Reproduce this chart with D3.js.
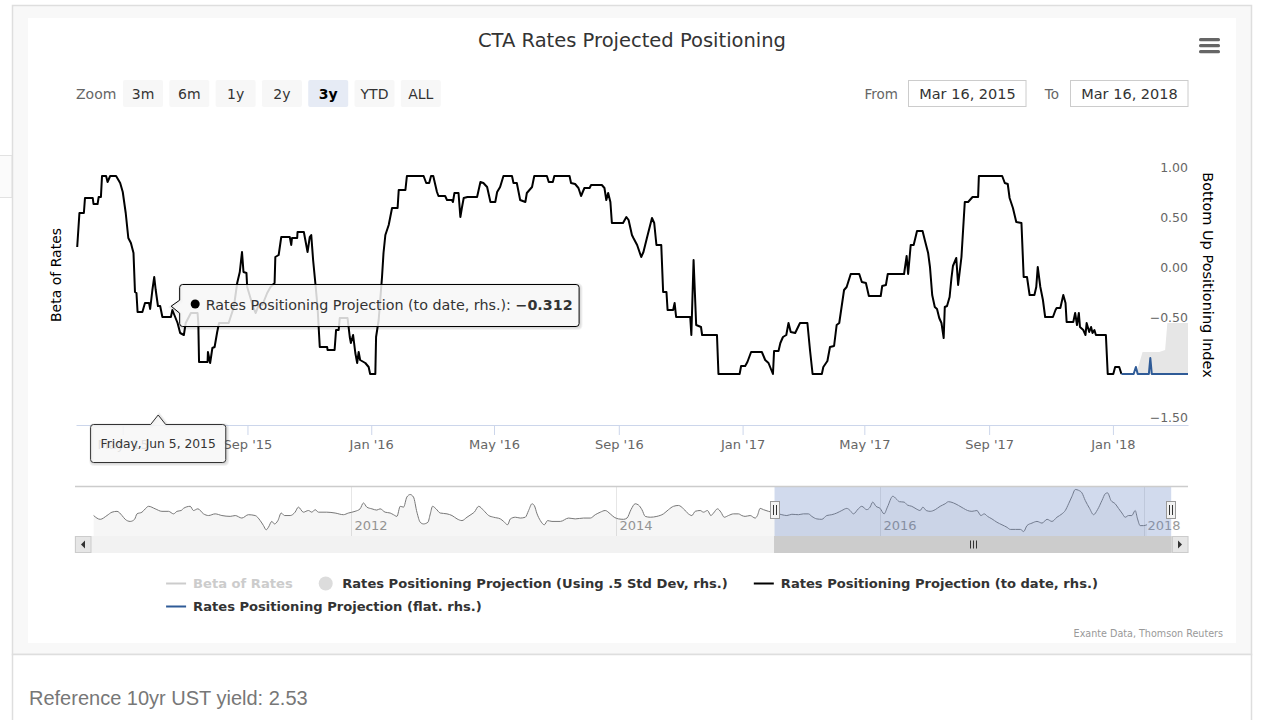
<!DOCTYPE html>
<html><head><meta charset="utf-8">
<script src="https://cdn.jsdelivr.net/npm/d3@7"></script>
<style>
html,body{margin:0;padding:0;background:#fff;}
svg{display:block;font-family:"DejaVu Sans",sans-serif;}
</style></head><body>
<svg id="chart" width="1265" height="720"></svg>
<script>
// ---------------- data ----------------
const titleText = "CTA Rates Projected Positioning";
const seriesNames = ["Beta of Rates", "Rates Positioning Projection (Using .5 Std Dev, rhs.)", "Rates Positioning Projection (to date, rhs.)", "Rates Positioning Projection (flat. rhs.)"];
const seriesVisible = [false, true, true, true];
const zoomButtons = ["3m", "6m", "1y", "2y", "3y", "YTD", "ALL"];
const selectedButton = "3y";
const rangeFrom = "2015-03-16";
const rangeTo = "2018-03-16";
const yDomain = [-1.5, 1.5];
const yTicks = [-1.5, -1.0, -0.5, 0.0, 0.5, 1.0];
const leftAxisTitle = "Beta of Rates";
const rightAxisTitle = "Bottom Up Positioning Index";
const navigatorExtent = [2009.91, 2018.33];
const navigatorTickYears = [2012, 2014, 2016, 2018];
const tooltipDate = "2015-06-05";
const tooltipValue = -0.312;
const creditsText = "Exante Data, Thomson Reuters";
const referenceText = "Reference 10yr UST yield: 2.53";

// Rates Positioning Projection (to date) — dates as decimal years
const positionYears = [2015.206,2015.212,2015.224,2015.227,2015.248,2015.250,2015.261,2015.264,2015.270,2015.273,2015.284,2015.288,2015.295,2015.311,2015.322,2015.329,2015.337,2015.344,2015.351,2015.358,2015.362,2015.366,2015.369,2015.382,2015.389,2015.400,2015.403,2015.409,2015.414,2015.418,2015.424,2015.430,2015.436,2015.459,2015.463,2015.477,2015.484,2015.494,2015.499,2015.513,2015.531,2015.533,2015.535,2015.558,2015.559,2015.565,2015.571,2015.577,2015.584,2015.589,2015.615,2015.629,2015.638,2015.645,2015.651,2015.655,2015.663,2015.665,2015.681,2015.688,2015.696,2015.706,2015.719,2015.728,2015.739,2015.741,2015.750,2015.757,2015.780,2015.784,2015.786,2015.800,2015.801,2015.818,2015.822,2015.828,2015.834,2015.838,2015.843,2015.849,2015.855,2015.861,2015.881,2015.882,2015.901,2015.905,2015.912,2015.915,2015.936,2015.942,2015.945,2015.951,2015.957,2015.962,2015.966,2015.970,2015.984,2015.993,2015.997,2016.011,2016.013,2016.020,2016.029,2016.033,2016.038,2016.047,2016.056,2016.071,2016.074,2016.092,2016.096,2016.141,2016.148,2016.156,2016.161,2016.167,2016.177,2016.181,2016.199,2016.204,2016.217,2016.220,2016.224,2016.235,2016.240,2016.244,2016.249,2016.259,2016.285,2016.294,2016.302,2016.312,2016.321,2016.334,2016.339,2016.347,2016.356,2016.379,2016.383,2016.392,2016.401,2016.415,2016.419,2016.433,2016.439,2016.473,2016.478,2016.489,2016.493,2016.534,2016.538,2016.549,2016.558,2016.565,2016.574,2016.588,2016.592,2016.621,2016.628,2016.633,2016.638,2016.644,2016.648,2016.678,2016.687,2016.693,2016.702,2016.706,2016.716,2016.727,2016.733,2016.743,2016.756,2016.762,2016.768,2016.781,2016.786,2016.795,2016.798,2016.813,2016.817,2016.821,2016.859,2016.862,2016.868,2016.875,2016.888,2016.891,2016.931,2016.935,2016.992,2016.996,2017.007,2017.013,2017.023,2017.052,2017.061,2017.070,2017.082,2017.085,2017.097,2017.102,2017.109,2017.118,2017.124,2017.130,2017.142,2017.155,2017.175,2017.182,2017.189,2017.214,2017.218,2017.229,2017.236,2017.247,2017.254,2017.261,2017.274,2017.281,2017.292,2017.315,2017.322,2017.333,2017.341,2017.373,2017.377,2017.387,2017.392,2017.436,2017.443,2017.447,2017.454,2017.462,2017.471,2017.486,2017.492,2017.501,2017.506,2017.512,2017.519,2017.525,2017.531,2017.537,2017.543,2017.546,2017.552,2017.559,2017.564,2017.568,2017.577,2017.582,2017.591,2017.600,2017.609,2017.621,2017.636,2017.638,2017.701,2017.708,2017.716,2017.721,2017.730,2017.739,2017.753,2017.759,2017.768,2017.775,2017.788,2017.793,2017.797,2017.804,2017.811,2017.817,2017.838,2017.845,2017.848,2017.858,2017.866,2017.872,2017.875,2017.893,2017.898,2017.903,2017.908,2017.911,2017.920,2017.926,2017.929,2017.936,2017.941,2017.945,2017.950,2017.954,2017.981,2017.986,2018.001,2018.006,2018.017,2018.023];
const positionValues = [0.28,0.62,0.62,0.77,0.77,0.71,0.71,0.78,0.78,0.99,0.99,0.93,0.99,0.99,0.92,0.83,0.62,0.37,0.32,0.22,-0.17,-0.18,-0.37,-0.37,-0.28,-0.28,-0.34,-0.15,-0.02,-0.15,-0.31,-0.31,-0.42,-0.42,-0.35,-0.48,-0.58,-0.60,-0.48,-0.38,-0.38,-0.48,-0.87,-0.87,-0.77,-0.88,-0.73,-0.72,-0.57,-0.48,-0.48,-0.32,-0.08,0.03,0.23,0.03,0.02,-0.12,-0.32,-0.38,-0.30,-0.30,-0.18,-0.12,-0.08,0.18,0.20,0.38,0.38,0.30,0.37,0.37,0.43,0.43,0.35,0.23,0.38,0.40,0.15,-0.08,-0.32,-0.72,-0.72,-0.75,-0.75,-0.55,-0.55,-0.43,-0.43,-0.62,-0.68,-0.60,-0.78,-0.88,-0.77,-0.85,-0.88,-0.92,-0.99,-0.99,-0.62,-0.45,-0.02,0.22,0.40,0.50,0.67,0.67,0.85,0.85,0.99,0.99,0.92,0.92,0.99,0.99,0.83,0.79,0.79,0.75,0.75,0.73,0.82,0.82,0.58,0.67,0.77,0.78,0.78,0.93,0.92,0.88,0.73,0.73,0.83,0.88,0.99,0.99,0.92,0.92,0.75,0.73,0.82,0.88,0.99,0.99,0.93,0.93,0.99,0.99,0.92,0.91,0.87,0.79,0.87,0.87,0.90,0.90,0.87,0.75,0.82,0.73,0.52,0.52,0.58,0.55,0.40,0.37,0.30,0.18,0.23,0.38,0.57,0.52,0.30,0.30,-0.17,-0.17,-0.35,-0.35,-0.28,-0.42,-0.42,-0.60,0.15,-0.50,-0.52,-0.60,-0.60,-0.99,-0.99,-0.91,-0.91,-0.87,-0.77,-0.77,-0.85,-0.88,-0.99,-0.76,-0.76,-0.68,-0.62,-0.60,-0.48,-0.57,-0.58,-0.48,-0.48,-0.75,-0.99,-0.99,-0.92,-0.86,-0.72,-0.71,-0.50,-0.48,-0.15,-0.12,0.01,0.01,-0.07,-0.08,-0.21,-0.21,-0.11,-0.10,0.01,0.01,0.19,0.01,0.30,0.30,0.44,0.44,0.35,0.22,0.08,-0.20,-0.32,-0.34,-0.43,-0.48,-0.63,-0.32,-0.31,-0.22,-0.03,0.09,0.17,-0.10,0.18,0.73,0.73,0.78,0.78,0.99,0.99,0.92,0.91,0.77,0.67,0.53,0.52,-0.02,-0.02,-0.20,-0.20,-0.12,0.08,-0.12,-0.25,-0.42,-0.42,-0.35,-0.33,-0.33,-0.20,-0.28,-0.47,-0.47,-0.38,-0.50,-0.38,-0.52,-0.55,-0.60,-0.48,-0.57,-0.52,-0.58,-0.55,-0.60,-0.60,-0.99,-0.99,-0.92,-0.92,-0.99];

// Rates Positioning Projection (flat)
const flatYears = [2018.023,2018.056,2018.062,2018.067,2018.097,2018.101,2018.105,2018.330];
const flatValues = [-0.99,-0.99,-0.92,-0.99,-0.99,-0.83,-0.99,-0.99];

// Rates Positioning Projection (Using .5 Std Dev) — range band
const bandYears = [2018.023,2018.063,2018.080,2018.125,2018.141,2018.147,2018.330];
const bandLow = [-0.99,-0.99,-0.99,-0.99,-0.99,-0.99,-0.99];
const bandHigh = [-0.99,-0.99,-0.77,-0.77,-0.75,-0.48,-0.48];

// Beta of Rates (hidden in main chart, shown in navigator)
const betaYears = [2010.051,2010.101,2010.152,2010.190,2010.228,2010.266,2010.290,2010.328,2010.361,2010.379,2010.417,2010.442,2010.467,2010.517,2010.568,2010.618,2010.656,2010.682,2010.714,2010.731,2010.782,2010.807,2010.840,2010.883,2010.921,2010.971,2011.022,2011.085,2011.123,2011.173,2011.223,2011.274,2011.312,2011.337,2011.357,2011.374,2011.400,2011.420,2011.446,2011.471,2011.496,2011.539,2011.576,2011.601,2011.639,2011.677,2011.703,2011.728,2011.753,2011.816,2011.879,2011.942,2011.980,2012.030,2012.068,2012.093,2012.119,2012.157,2012.194,2012.219,2012.257,2012.295,2012.320,2012.346,2012.371,2012.396,2012.421,2012.446,2012.471,2012.497,2012.522,2012.547,2012.580,2012.598,2012.615,2012.641,2012.673,2012.724,2012.762,2012.800,2012.837,2012.875,2012.913,2012.930,2012.963,2013.001,2013.039,2013.076,2013.127,2013.152,2013.182,2013.203,2013.241,2013.278,2013.316,2013.341,2013.367,2013.384,2013.405,2013.430,2013.460,2013.485,2013.518,2013.581,2013.644,2013.694,2013.757,2013.808,2013.846,2013.884,2013.921,2013.959,2013.989,2014.022,2014.060,2014.086,2014.116,2014.148,2014.173,2014.199,2014.224,2014.262,2014.312,2014.362,2014.400,2014.438,2014.476,2014.514,2014.551,2014.577,2014.602,2014.640,2014.665,2014.695,2014.721,2014.741,2014.771,2014.797,2014.822,2014.854,2014.892,2014.930,2014.955,2014.980,2015.018,2015.056,2015.073,2015.094,2015.119,2015.157,2015.210,2015.258,2015.296,2015.334,2015.384,2015.421,2015.459,2015.485,2015.523,2015.561,2015.598,2015.636,2015.674,2015.712,2015.750,2015.775,2015.800,2015.837,2015.863,2015.901,2015.926,2015.946,2015.971,2016.002,2016.032,2016.057,2016.098,2016.123,2016.148,2016.183,2016.208,2016.241,2016.274,2016.304,2016.325,2016.350,2016.380,2016.418,2016.455,2016.493,2016.518,2016.556,2016.594,2016.632,2016.662,2016.695,2016.733,2016.763,2016.788,2016.813,2016.846,2016.884,2016.922,2016.960,2016.985,2017.023,2017.061,2017.086,2017.111,2017.149,2017.187,2017.225,2017.263,2017.300,2017.338,2017.376,2017.401,2017.426,2017.452,2017.477,2017.502,2017.527,2017.552,2017.585,2017.615,2017.645,2017.679,2017.704,2017.721,2017.747,2017.779,2017.804,2017.830,2017.855,2017.880,2017.905,2017.930,2017.948,2017.968,2017.993,2018.019];
const betaValues = [0.38,0.29,0.38,0.46,0.48,0.38,0.29,0.24,0.29,0.42,0.46,0.54,0.60,0.54,0.48,0.48,0.42,0.48,0.50,0.55,0.60,0.50,0.54,0.42,0.38,0.42,0.38,0.36,0.38,0.32,0.40,0.38,0.26,0.14,0.04,0.10,0.24,0.18,0.26,0.44,0.38,0.38,0.46,0.58,0.46,0.50,0.46,0.52,0.46,0.46,0.44,0.40,0.44,0.48,0.54,0.68,0.58,0.54,0.51,0.54,0.46,0.44,0.40,0.36,0.60,0.58,0.82,0.88,0.82,0.46,0.22,0.18,0.22,0.42,0.60,0.54,0.44,0.42,0.38,0.30,0.26,0.34,0.42,0.46,0.60,0.50,0.38,0.34,0.30,0.24,0.16,0.30,0.34,0.32,0.34,0.50,0.66,0.62,0.42,0.26,0.16,0.26,0.24,0.24,0.32,0.30,0.32,0.32,0.40,0.46,0.50,0.42,0.34,0.30,0.29,0.32,0.52,0.66,0.63,0.52,0.36,0.34,0.36,0.42,0.52,0.60,0.62,0.54,0.42,0.38,0.48,0.50,0.46,0.50,0.38,0.44,0.54,0.46,0.34,0.38,0.42,0.42,0.38,0.36,0.38,0.32,0.38,0.55,0.52,0.48,0.44,0.40,0.38,0.41,0.40,0.42,0.42,0.36,0.30,0.29,0.38,0.40,0.44,0.50,0.55,0.50,0.42,0.54,0.60,0.52,0.58,0.70,0.60,0.55,0.42,0.58,0.84,0.78,0.71,0.70,0.63,0.60,0.54,0.50,0.58,0.50,0.48,0.52,0.60,0.66,0.71,0.68,0.62,0.55,0.50,0.48,0.50,0.38,0.42,0.36,0.30,0.22,0.16,0.10,0.05,0.05,0.05,0.00,0.14,0.20,0.24,0.20,0.29,0.24,0.34,0.42,0.50,0.66,0.84,1.00,0.98,0.92,0.74,0.55,0.40,0.52,0.74,0.90,0.92,0.74,0.66,0.55,0.44,0.34,0.38,0.38,0.50,0.30,0.14,0.14,0.16];

// ---------------- helpers ----------------
const parseDay = d3.utcParse("%Y-%m-%d");
function yearToDate(t) {
  const yr = Math.floor(t);
  const a = Date.UTC(yr, 0, 1), b = Date.UTC(yr + 1, 0, 1);
  return new Date(a + (t - yr) * (b - a));
}
const pos = positionYears.map((t, i) => ({date: yearToDate(t), v: positionValues[i]}));
const flat = flatYears.map((t, i) => ({date: yearToDate(t), v: flatValues[i]}));
const band = bandYears.map((t, i) => ({date: yearToDate(t), lo: bandLow[i], hi: bandHigh[i]}));
const beta = betaYears.map((t, i) => ({date: yearToDate(t), v: betaValues[i]}));

const colors = {line: "#000000", flat: "#2f5b97", band: "#e6e6e6", beta: "#cccccc"};
const svg = d3.select("#chart");
const W = 1265, H = 720;

// ---------------- page frame ----------------
svg.append("rect").attr("width", W).attr("height", H).attr("fill", "#fff");
svg.append("rect").attr("x", -2).attr("y", 155.5).attr("width", 14).attr("height", 42)
  .attr("fill", "#fbfbfb").attr("stroke", "#e2e2e2");
svg.append("rect").attr("x", 12.5).attr("y", 5.5).attr("width", 1239).attr("height", 649)
  .attr("fill", "#f8f8f8").attr("stroke", "#dedede").attr("stroke-width", 1.5);
svg.append("rect").attr("x", 28).attr("y", 18).attr("width", 1208).attr("height", 625).attr("fill", "#fff");
svg.append("rect").attr("x", 12.5).attr("y", 654.5).attr("width", 1239).attr("height", 90)
  .attr("fill", "#fff").attr("stroke", "#dedede").attr("stroke-width", 1.5);
svg.append("text").attr("x", 29).attr("y", 704.5).attr("fill", "#777")
  .style("font-family", "'Liberation Sans', Arial, sans-serif").style("font-size", "20px").text(referenceText);

// ---------------- title & menu ----------------
svg.append("text").attr("x", 632).attr("y", 46.5).attr("text-anchor", "middle")
  .attr("fill", "#333").style("font-size", "19.5px").text(titleText);
[38, 44, 50].forEach(yy => svg.append("rect").attr("x", 1199).attr("y", yy).attr("width", 21).attr("height", 3.2)
  .attr("rx", 1.5).attr("fill", "#666"));

// ---------------- range selector ----------------
svg.append("text").attr("x", 76).attr("y", 98.5).attr("fill", "#666").style("font-size", "14px").text("Zoom");
zoomButtons.forEach((b, i) => {
  const bx = 123 + i * 46.3;
  const sel = b === selectedButton;
  svg.append("rect").attr("x", bx).attr("y", 80).attr("width", 40).attr("height", 27).attr("rx", 2)
    .attr("fill", sel ? "#e6ebf5" : "#f7f7f7");
  svg.append("text").attr("x", bx + 20).attr("y", 98.5).attr("text-anchor", "middle")
    .attr("fill", sel ? "#000" : "#333").style("font-size", "14px").style("font-weight", sel ? "bold" : "normal").text(b);
});
const inputFmt = d3.utcFormat("%b %-d, %Y");
[["From", 898, 908.5, rangeFrom], ["To", 1059, 1070.5, rangeTo]].forEach(([lab, lx, bx, d]) => {
  svg.append("text").attr("x", lx).attr("y", 98.5).attr("text-anchor", "end").attr("fill", "#666")
    .style("font-size", "13.5px").text(lab);
  svg.append("rect").attr("x", bx).attr("y", 80.5).attr("width", 117.5).attr("height", 26)
    .attr("fill", "#fff").attr("stroke", "#cccccc");
  svg.append("text").attr("x", bx + 59).attr("y", 98.5).attr("text-anchor", "middle").attr("fill", "#333")
    .style("font-size", "14.5px").text(inputFmt(parseDay(d)));
});

// ---------------- main plot ----------------
const plot = {left: 76, right: 1188, top: 125, bottom: 425};
const x = d3.scaleUtc().domain([parseDay(rangeFrom), parseDay(rangeTo)]).range([plot.left, plot.right]);
const y = d3.scaleLinear().domain(yDomain).range([plot.bottom, plot.top]);

svg.append("clipPath").attr("id", "plotclip").append("rect")
  .attr("x", plot.left).attr("y", plot.top - 2).attr("width", plot.right - plot.left).attr("height", plot.bottom - plot.top + 4);

// x axis
const xAxis = d3.axisBottom(x).tickValues(x.ticks(d3.utcMonth.every(4)))
  .tickFormat(d3.utcFormat("%b '%y")).tickSize(10).tickSizeOuter(0).tickPadding(5);
const gx = svg.append("g").attr("transform", `translate(0,${plot.bottom})`).call(xAxis);
gx.select(".domain").attr("stroke", "#ccd6eb");
gx.selectAll(".tick line").attr("stroke", "#ccd6eb");
gx.selectAll(".tick text").attr("fill", "#666").style("font-size", "13px").style("font-family", "DejaVu Sans");

// y axis labels (right, inside)
const yFmt = d3.format(".2f");
yTicks.forEach(t => {
  svg.append("text").attr("x", plot.right).attr("y", y(t) - 3.5).attr("text-anchor", "end")
    .attr("fill", "#666").style("font-size", "12.5px").text(yFmt(t));
});
svg.append("text").attr("transform", `translate(1203,${(plot.top + plot.bottom) / 2}) rotate(90)`)
  .attr("text-anchor", "middle").attr("fill", "#000").style("font-size", "14.5px").text(rightAxisTitle);
svg.append("text").attr("transform", `translate(61,${(plot.top + plot.bottom) / 2}) rotate(-90)`)
  .attr("text-anchor", "middle").attr("fill", "#000").style("font-size", "14px").text(leftAxisTitle);

const gPlot = svg.append("g").attr("clip-path", "url(#plotclip)");
gPlot.append("path").datum(band)
  .attr("d", d3.area().x(d => x(d.date)).y0(d => y(d.lo)).y1(d => y(d.hi)))
  .attr("fill", colors.band);
gPlot.append("path").datum(pos)
  .attr("d", d3.line().x(d => x(d.date)).y(d => y(d.v)))
  .attr("fill", "none").attr("stroke", colors.line).attr("stroke-width", 2).attr("stroke-linejoin", "round");
gPlot.append("path").datum(flat)
  .attr("d", d3.line().x(d => x(d.date)).y(d => y(d.v)))
  .attr("fill", "none").attr("stroke", colors.flat).attr("stroke-width", 2).attr("stroke-linejoin", "round");

// ---------------- navigator ----------------
const nav = {left: 75, right: 1188, top: 486, bottom: 536};
const nx = d3.scaleUtc().domain(navigatorExtent.map(yearToDate)).range([nav.left, nav.right]);
const ny = d3.scaleLinear().domain(d3.extent(betaValues)).range([531.5, 489.5]);
const gNav = svg.append("g");
gNav.append("rect").attr("x", nav.left).attr("y", nav.top).attr("width", nav.right - nav.left)
  .attr("height", nav.bottom - nav.top).attr("fill", "#fff");
navigatorTickYears.forEach(t => {
  const xx = Math.round(nx(yearToDate(t))) + 0.5;
  gNav.append("line").attr("x1", xx).attr("x2", xx).attr("y1", nav.top).attr("y2", nav.bottom)
    .attr("stroke", "#e6e6e6");
  gNav.append("text").attr("x", xx + 3).attr("y", 530).attr("fill", "#999").style("font-size", "13px").text(t);
});
gNav.append("path").datum(beta)
  .attr("d", d3.area().curve(d3.curveMonotoneX).x(d => nx(d.date)).y0(nav.bottom).y1(d => ny(d.v)))
  .attr("fill", "rgba(0,0,0,0.035)");
gNav.append("path").datum(beta)
  .attr("d", d3.line().curve(d3.curveMonotoneX).x(d => nx(d.date)).y(d => ny(d.v)))
  .attr("fill", "none").attr("stroke", "#777").attr("stroke-width", 1);
const selL = nx(parseDay(rangeFrom)), selR = nx(parseDay(rangeTo));
gNav.append("rect").attr("x", selL).attr("y", nav.top).attr("width", selR - selL).attr("height", nav.bottom - nav.top)
  .attr("fill", "rgba(102,133,194,0.3)");
gNav.append("line").attr("x1", nav.left).attr("x2", nav.right).attr("y1", nav.top + 0.5).attr("y2", nav.top + 0.5)
  .attr("stroke", "#cccccc").attr("stroke-width", 1.5);
[selL, selR].forEach(hx => {
  gNav.append("rect").attr("x", Math.round(hx) - 4.5).attr("y", 501.5).attr("width", 9).attr("height", 17)
    .attr("fill", "#f2f2f2").attr("stroke", "#999");
  [-1.5, 1.5].forEach(o => gNav.append("line").attr("x1", Math.round(hx) + o).attr("x2", Math.round(hx) + o)
    .attr("y1", 505).attr("y2", 515).attr("stroke", "#333"));
});
// scrollbar
const sb = {top: 536.5, h: 16};
gNav.append("rect").attr("x", nav.left).attr("y", sb.top).attr("width", nav.right - nav.left).attr("height", sb.h)
  .attr("fill", "#f2f2f2").attr("stroke", "#f2f2f2");
gNav.append("rect").attr("x", selL).attr("y", sb.top).attr("width", Math.min(selR, nav.right - 16) - selL).attr("height", sb.h)
  .attr("fill", "#cccccc").attr("stroke", "#cccccc");
const cMid = Math.round((selL + Math.min(selR, nav.right - 16)) / 2);
[-3, 0, 3].forEach(o => gNav.append("line").attr("x1", cMid + o + 0.5).attr("x2", cMid + o + 0.5)
  .attr("y1", sb.top + 4).attr("y2", sb.top + 12).attr("stroke", "#333"));
[[nav.left, -1], [nav.right - 16, 1]].forEach(([bx, dir]) => {
  gNav.append("rect").attr("x", bx + 0.5).attr("y", sb.top).attr("width", 15.5).attr("height", sb.h)
    .attr("fill", "#e6e6e6").attr("stroke", "#cccccc");
  const cx = bx + 8, cy = sb.top + 8;
  gNav.append("path").attr("d", `M${cx - 2 * dir},${cy - 4}L${cx + 2 * dir},${cy}L${cx - 2 * dir},${cy + 4}Z`)
    .attr("fill", "#333");
});

// ---------------- legend ----------------
const gLeg = svg.append("g");
const legendFont = {size: "13.1px", weight: "bold"};
function measure(txt, size, weight) {
  const t = svg.append("text").style("font-size", size).style("font-weight", weight).text(txt);
  const w = t.node().getComputedTextLength();
  t.remove();
  return w;
}
const symbolSpace = [27, 23.5, 27, 27];
const itemDist = 26;
const itemW = seriesNames.map((n, i) => symbolSpace[i] + measure(n, legendFont.size, legendFont.weight));
const row1 = [0, 1, 2], row2 = [3];
const row1W = d3.sum(row1, i => itemW[i]) + itemDist * (row1.length - 1);
const legLeft = 632 - row1W / 2;
function drawItem(i, lx, ly) {
  const col = seriesVisible[i] ? "#333" : "#cccccc";
  const sc = seriesVisible[i] ? [colors.beta, "#dcdcdc", colors.line, colors.flat][i] : "#cccccc";
  if (i === 1) {
    gLeg.append("circle").attr("cx", lx + 7).attr("cy", ly - 4.5).attr("r", 7).attr("fill", sc);
  } else {
    gLeg.append("line").attr("x1", lx).attr("x2", lx + 20).attr("y1", ly - 4.5).attr("y2", ly - 4.5)
      .attr("stroke", sc).attr("stroke-width", 2);
  }
  gLeg.append("text").attr("x", lx + symbolSpace[i]).attr("y", ly).attr("fill", col)
    .style("font-size", legendFont.size).style("font-weight", legendFont.weight).text(seriesNames[i]);
}
let lx = legLeft;
row1.forEach(i => { drawItem(i, lx, 588); lx += itemW[i] + itemDist; });
lx = legLeft;
row2.forEach(i => { drawItem(i, lx, 611); lx += itemW[i] + itemDist; });

// credits
svg.append("text").attr("x", 1223).attr("y", 637).attr("text-anchor", "end").attr("fill", "#999")
  .style("font-size", "9.6px").text(creditsText);

// ---------------- tooltips ----------------
const tDate = parseDay(tooltipDate);
const px = x(tDate), py = y(tooltipValue);
// date label on x axis
{
  const g = svg.append("g");
  const txt = d3.utcFormat("%A, %b %-d, %Y")(tDate);
  const tw = measure(txt, "12.3px", "normal");
  const bw = tw + 20, bh = 38, bx = px - bw / 2, by = 424.5;
  const d = `M${bx + 3},${by} H${px - 7.5} L${px},${by - 9.5} L${px + 7.5},${by} H${bx + bw - 3} Q${bx + bw},${by} ${bx + bw},${by + 3} V${by + bh - 3} Q${bx + bw},${by + bh} ${bx + bw - 3},${by + bh} H${bx + 3} Q${bx},${by + bh} ${bx},${by + bh - 3} V${by + 3} Q${bx},${by} ${bx + 3},${by} Z`;
  [5, 3, 1].forEach(sw => g.append("path").attr("d", d).attr("transform", "translate(1,1)")
    .attr("fill", "none").attr("stroke", "rgba(0,0,0,0.05)").attr("stroke-width", sw));
  g.append("path").attr("d", d).attr("fill", "rgba(247,247,247,0.85)").attr("stroke", "#333").attr("stroke-width", 1);
  g.append("text").attr("x", px).attr("y", by + 23).attr("text-anchor", "middle").attr("fill", "#333")
    .style("font-size", "12.3px").text(txt);
}
// series tooltip
{
  const g = svg.append("g");
  const label = seriesNames[2] + ": ";
  const valTxt = d3.format(".3f")(tooltipValue);
  const fs = "14.3px";
  const w1 = measure(label, fs, "normal"), w2 = measure(valTxt, fs, "bold");
  const bx = px + 21.5, by = Math.round(py - 22) + 0.5, bh = 42, bw = 27 + w1 + w2 + 10;
  const ax = px + 13, ay = py;
  const d = `M${bx + 3},${by} H${bx + bw - 3} Q${bx + bw},${by} ${bx + bw},${by + 3} V${by + bh - 3} Q${bx + bw},${by + bh} ${bx + bw - 3},${by + bh} H${bx + 3} Q${bx},${by + bh} ${bx},${by + bh - 3} V${ay + 7} L${ax},${ay} L${bx},${ay - 6} V${by + 3} Q${bx},${by} ${bx + 3},${by} Z`;
  [5, 3, 1].forEach(sw => g.append("path").attr("d", d).attr("transform", "translate(1,1)")
    .attr("fill", "none").attr("stroke", "rgba(0,0,0,0.05)").attr("stroke-width", sw));
  g.append("path").attr("d", d).attr("fill", "rgba(247,247,247,0.85)").attr("stroke", colors.line).attr("stroke-width", 1);
  g.append("circle").attr("cx", bx + 15.5).attr("cy", by + 19.5).attr("r", 4.5).attr("fill", colors.line);
  const t = g.append("text").attr("x", bx + 26).attr("y", by + 25).attr("fill", "#333").style("font-size", fs);
  t.append("tspan").text(label);
  t.append("tspan").style("font-weight", "bold").text(valTxt);
}
</script>
</body></html>
